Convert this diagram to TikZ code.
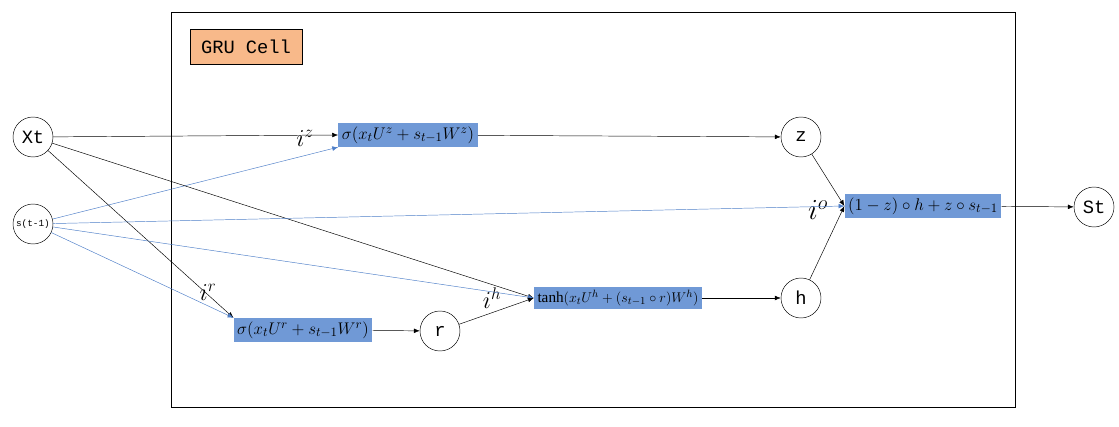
\documentclass[tikz,border=0pt]{standalone}
\usepackage{fontspec}
\setmonofont{Liberation Mono}
\setmainfont{Liberation Serif}
\usetikzlibrary{arrows.meta}
\definecolor{boxblue}{HTML}{7099D6}
\definecolor{cellorange}{HTML}{F8B98A}
\definecolor{lineblue}{HTML}{4F7FC8}
\tikzset{
  unit/.style={circle,draw,thin,minimum size=1.2cm,inner sep=0pt,font=\ttfamily\fontsize{16}{18}\selectfont},
  gate/.style={fill=boxblue,inner sep=3pt,font=\fontsize{15}{18}\selectfont},
  wx/.style={-{Latex[length=5pt,width=4pt]},thin,black},
  ws/.style={-{Latex[length=5pt,width=4pt]},thin,lineblue},
  tag/.style={font=\fontsize{20}{22}\selectfont}
}
\begin{document}
\begin{tikzpicture}[x=0.03cm,y=-0.03cm]
	\useasboundingbox (0,0) rectangle (1119,427);
	\draw[thin] (171,12) rectangle (1015,407);
	\node[fill=cellorange,draw,thin,minimum width=3.36cm,minimum height=1.05cm,font=\ttfamily\fontsize{16}{18}\selectfont] (cell) at (246,47) {GRU Cell};

	\node[unit] (xt) at (33,137) {Xt};
	\node[unit,font=\ttfamily\fontsize{8}{9}\selectfont] (sp) at (33,224) {s(t-1)};

	\node[gate] (zg) at (408,135) {$\sigma(x_tU^z+s_{t-1}W^z)$};
	\node[gate] (rg) at (303,330) {$\sigma(x_tU^r+s_{t-1}W^r)$};
	\node[gate,font=\fontsize{13}{16}\selectfont] (hg) at (618,298) {$\tanh(x_tU^h+(s_{t-1}\circ r)W^h)$};
	\node[gate] (og) at (923,206) {$(1-z)\circ h+z\circ s_{t-1}$};

	\node[unit] (z) at (801,137) {z};
	\node[unit] (r) at (440,331) {r};
	\node[unit] (h) at (801,298) {h};
	\node[unit] (st) at (1094,207) {St};

	\node[tag] (iz) at (305,138) {$i^z$};
	\node[tag] (ir) at (208,292) {$i^r$};
	\node[tag] (ih) at (492,298) {$i^h$};
	\node[tag,font=\fontsize{26}{28}\selectfont] (io) at (818,210) {$i^o$};

	% inputs
	\draw[wx] (xt) -- (zg.west);
	\draw[ws] (sp) -- (zg.south west);
	\draw[wx] (xt) -- (rg.north west);
	\draw[ws] (sp) -- (rg.north west);
	\draw[wx] (xt) -- (hg.west);
	\draw[ws] (sp) -- (hg.west);
	\draw[ws] (sp) -- (og.west);
	\draw[wx] (r) -- (hg.west);

	% gate outputs
	\draw[wx] (zg) -- (z);
	\draw[wx] (rg) -- (r);
	\draw[wx] (hg) -- (h);
	\draw[wx] (z) -- (og.west);
	\draw[wx] (h) -- (og.west);
	\draw[wx] (og) -- (st);
\end{tikzpicture}
\end{document}
